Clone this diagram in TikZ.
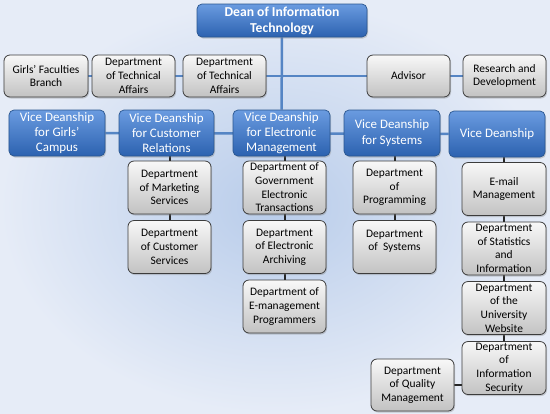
\documentclass[tikz,border=0pt]{standalone}
\usepackage{fontspec}
\setmainfont{Carlito}
\usetikzlibrary{shadows}
\pgfdeclarelayer{bg}
\pgfdeclarelayer{edges}
\pgfsetlayers{bg,edges,main}
\definecolor{bgin}{HTML}{B8CCEA}
\definecolor{bgout}{HTML}{E6ECF7}
\definecolor{bluetop}{HTML}{6A9BE0}
\definecolor{bluebot}{HTML}{2C62B0}
\definecolor{blueedge}{HTML}{2A568F}
\definecolor{bluelink}{HTML}{5585C4}
\definecolor{graytop}{HTML}{F8F8F8}
\definecolor{graybot}{HTML}{C2C2C2}
\definecolor{grayedge}{HTML}{3C3C3C}
\tikzset{
  boxshadow/.style={drop shadow={opacity=0.35,shadow xshift=1bp,shadow yshift=-1.5bp}},
  bluebox/.style={draw=blueedge,line width=0.7bp,rounded corners=5bp,
    top color=bluetop,bottom color=bluebot,text=white,align=center,
    inner sep=1bp,minimum width=96bp,minimum height=46bp,boxshadow,
    font=\fontsize{13}{15.3}\selectfont},
  deanbox/.style={bluebox,minimum width=170bp,minimum height=33bp,
    font=\bfseries\fontsize{13.7}{16}\selectfont},
  graybox/.style={draw=grayedge,line width=0.8bp,rounded corners=6bp,
    top color=graytop,bottom color=graybot,text=black,align=center,
    inner sep=1bp,minimum width=83bp,minimum height=53bp,boxshadow,
    font=\fontsize{11.5}{13.7}\selectfont},
  toprow/.style={graybox,minimum height=42bp},
  bluelinkline/.style={draw=bluelink,line width=2.5bp},
  colline/.style={draw=black!85,line width=2bp},
}
\begin{document}
\begin{tikzpicture}[x=1bp,y=-1bp]
\useasboundingbox (0,0) rectangle (550,413);
\begin{pgfonlayer}{bg}
\path[inner color=bgin,outer color=bgout] (0,0) rectangle (550,413);
\end{pgfonlayer}
% Dean
\node[deanbox] (dean) at (282,20.5) {Dean of Information\\Technology};
% top gray row
\node[toprow,minimum width=84bp] (gf) at (46,76) {Girls' Faculties\\Branch};
\node[toprow] (ta1) at (133.5,76) {Department\\of Technical\\Affairs};
\node[toprow] (ta2) at (224.5,76) {Department\\of Technical\\Affairs};
\node[toprow] (adv) at (408.5,76) {Advisor};
\node[toprow] (rd) at (504.5,76) {Research and\\Development};
% vice deanships
\node[bluebox] (vdg) at (57,133) {Vice Deanship\\for Girls'\\Campus};
\node[bluebox,minimum width=95bp] (vdc) at (166.5,133) {Vice Deanship\\for Customer\\Relations};
\node[bluebox,minimum width=97bp] (vde) at (281.5,133) {Vice Deanship\\for Electronic\\Management};
\node[bluebox] (vds) at (392,133) {Vice Deanship\\for Systems};
\node[bluebox] (vd) at (497,134) {Vice Deanship};
% customer relations column
\node[graybox] (mkt) at (169.5,187.5) {Department\\of Marketing\\Services};
\node[graybox] (csv) at (169.5,247) {Department\\of Customer\\Services};
% electronic management column
\node[graybox] (gov) at (284.5,187.5) {Department of\\Government\\Electronic\\Transactions};
\node[graybox] (arc) at (284.5,247) {Department\\of Electronic\\Archiving};
\node[graybox] (emp) at (284.5,306.5) {Department of\\E-management\\Programmers};
% systems column
\node[graybox] (prg) at (394.5,187.5) {Department\\of\\Programming};
\node[graybox] (sys) at (394.5,247) {Department\\of~ Systems\\~};
% vice deanship column
\node[graybox,minimum width=84bp] (eml) at (504,189) {E-mail\\Management};
\node[graybox,minimum width=84bp] (sta) at (504,248.5) {Department\\of Statistics\\and\\Information};
\node[graybox,minimum width=84bp] (web) at (504,308) {Department\\of the\\University\\Website};
\node[graybox,minimum width=84bp] (sec) at (504,368) {Department\\of\\Information\\Security};
\node[graybox,minimum height=52bp] (qm) at (412.5,385) {Department\\of Quality\\Management};
% connectors
\begin{pgfonlayer}{edges}
\draw[bluelinkline] (dean) -- (vde);
\draw[bluelinkline] (gf) -- (rd);
\draw[bluelinkline] (vdg) -- (vd);
\draw[colline] (mkt.north) -- (mkt.north |- vdc.south);
\draw[colline] (mkt) -- (csv);
\draw[colline] (gov.north) -- (gov.north |- vde.south);
\draw[colline] (gov) -- (emp);
\draw[colline] (prg.north) -- (prg.north |- vds.south);
\draw[colline] (prg) -- (sys);
\draw[colline] (eml.north) -- (eml.north |- vd.south);
\draw[colline] (eml) -- (sec);
\draw[colline] (qm.east) -- (qm.east -| sec.west);
\end{pgfonlayer}
\end{tikzpicture}
\end{document}
